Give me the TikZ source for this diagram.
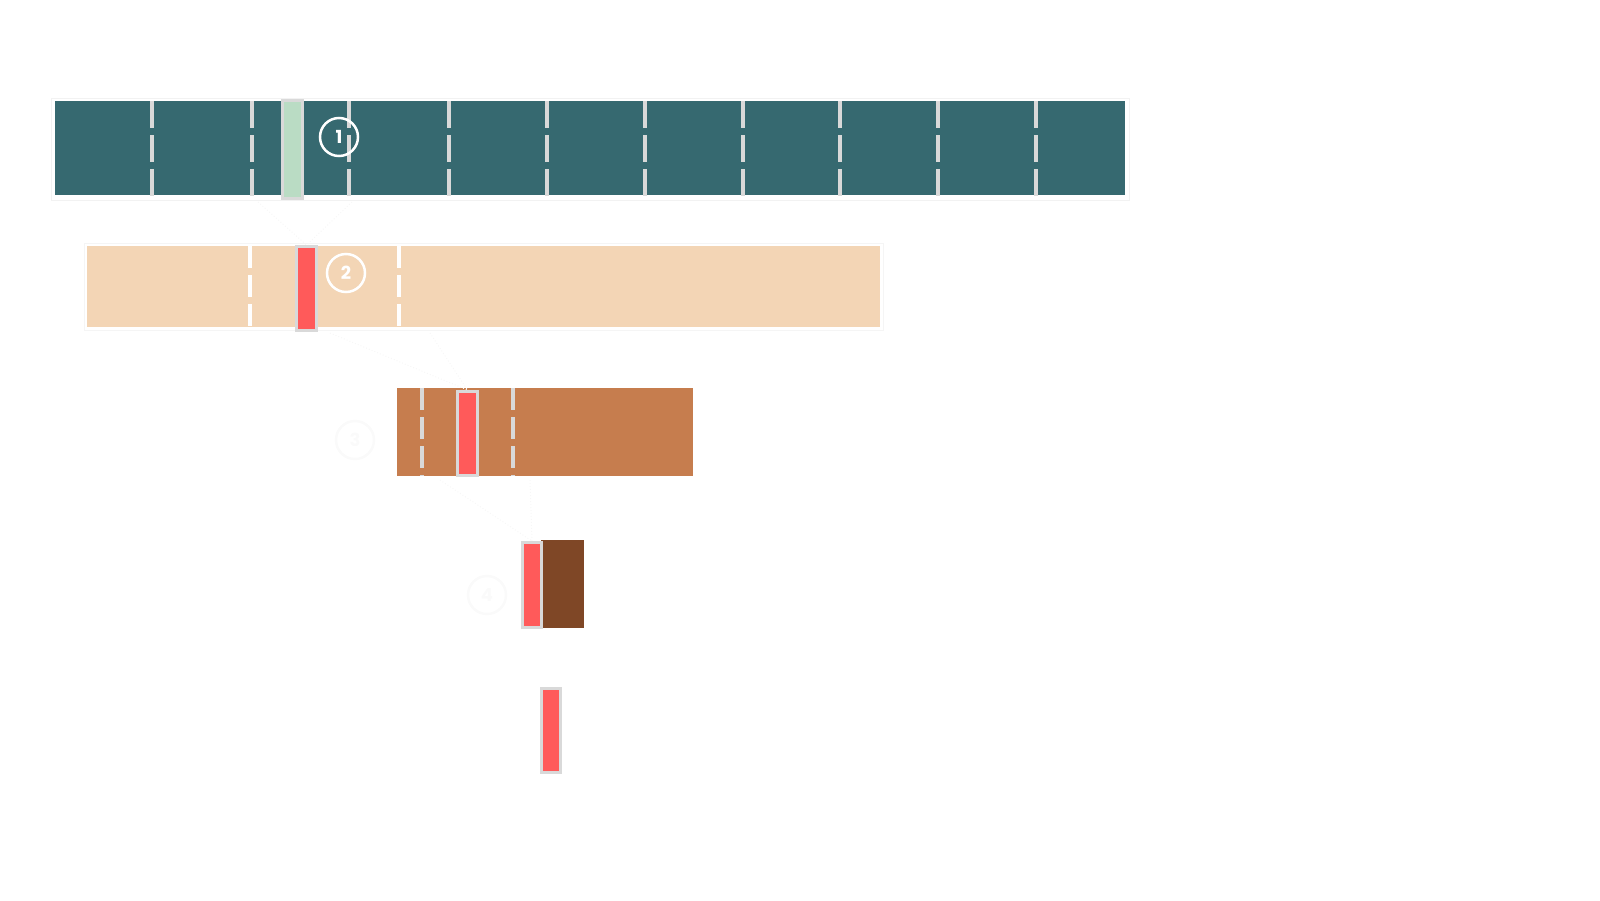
\documentclass[tikz,border=0pt]{standalone}
\usepackage{fontspec}
\setmainfont{Poppins}
\begin{document}
\begin{tikzpicture}[x=1pt,y=-1pt,
 sep/.style={line width=3.5pt,dash pattern=on 27pt off 7pt},
 cell/.style={draw=gray!30,line width=3pt},
 num/.style={circle,draw=white,line width=2.5pt,minimum size=38pt,inner sep=0pt,text=white,font=\bfseries\fontsize{18}{18}\selectfont},
 faintnum/.style={num,draw=gray!4,text=gray!4},
 faint/.style={draw=gray!6,line width=1pt,dotted}]
\useasboundingbox (0,0) rectangle (1600,900);
% bar 1
\node[draw=gray!10,fill=white,line width=0.5pt,minimum width=1078pt,minimum height=102pt,anchor=north west,inner sep=0] (f1) at (51,98) {};
\fill[fill={rgb,255:red,54;green,105;blue,112}] (55,101) rectangle (1125,195);
\foreach \x in {152,252,349,449,547,645,743,840,938,1036}
 \draw[sep,draw=gray!30] (\x,101) -- (\x,198);
\node[cell,fill={rgb,255:red,186;green,220;blue,196},minimum width=20pt,minimum height=98pt,inner sep=0,anchor=north west] (g1) at (281,99) {};
\node[num] (c1) at (339,137) {1};
% bar 2
\fill[fill={rgb,255:red,243;green,213;blue,181}] (87,246) rectangle (880,327);
\draw[gray!8,line width=0.5pt] (84,243) rectangle (883,330);
\foreach \x in {250,399}
 \draw[sep,draw=white,dash pattern=on 22pt off 7pt] (\x,246) -- (\x,327);
\node[cell,fill={rgb,255:red,255;green,90;blue,90},minimum width=20pt,minimum height=84pt,inner sep=0,anchor=north west] (r2) at (295,245) {};
\node[num] (c2) at (346,273) {2};
% bar 3
\fill[fill={rgb,255:red,198;green,125;blue,78}] (397,388) rectangle (693,476);
\foreach \x in {422,513}
 \draw[sep,draw=gray!30,dash pattern=on 22pt off 7pt] (\x,388) -- (\x,476);
\node[cell,fill={rgb,255:red,255;green,90;blue,90},minimum width=20pt,minimum height=84pt,inner sep=0,anchor=north west] (r3) at (456,390) {};
\node[faintnum] (c3) at (355,440) {3};
% bar 4
\fill[fill={rgb,255:red,127;green,71;blue,38}] (541,540) rectangle (584,628);
\node[cell,fill={rgb,255:red,255;green,90;blue,90},minimum width=19pt,minimum height=85pt,inner sep=0,anchor=north west] (r4) at (521,541) {};
\node[faintnum] (c4) at (487,595) {4};
% bar 5
\node[cell,fill={rgb,255:red,255;green,90;blue,90},minimum width=19pt,minimum height=84pt,inner sep=0,anchor=north west] (r5) at (540,687) {};
% faint connectors
\coordinate (a1) at (258,202); \coordinate (b1) at (352,202);
\draw[faint] (a1) -- (r2.north); \draw[faint] (b1) -- (r2.north);
\coordinate (a2) at (330,333); \coordinate (b2) at (430,333);
\draw[faint] (a2) -- (r3.north); \draw[faint] (b2) -- (r3.north);
\coordinate (a3) at (440,480); \coordinate (b3) at (530,480);
\draw[faint] (a3) -- (r4.north); \draw[faint] (b3) -- (r4.north);
\end{tikzpicture}
\end{document}
